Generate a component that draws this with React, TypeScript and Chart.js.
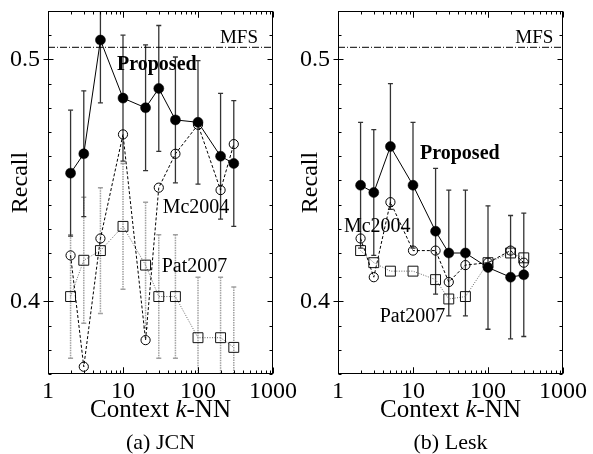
import React, { useEffect, useRef } from "react";
import { Chart, registerables } from "chart.js";

Chart.register(...registerables);

// ---------------- data ----------------
const kValues = [2, 3, 5, 10, 20, 30, 50, 100, 200, 300];
const mfsValue = 0.505;

const jcnProposed = [0.453, 0.461, 0.508, 0.484, 0.48, 0.488, 0.475, 0.474, 0.46, 0.457];
const jcnProposedErr = [0.026, 0.026, 0.026, 0.026, 0.026, 0.026, 0.026, 0.0255, 0.026, 0.026];
const jcnMc = [0.419, 0.373, 0.426, 0.469, 0.384, 0.447, 0.461, 0.473, 0.446, 0.465];
const jcnPat = [0.402, 0.417, 0.421, 0.431, 0.415, 0.402, 0.402, 0.385, 0.385, 0.381];
const jcnPatErr = [0.0255, 0.026, 0.026, 0.026, 0.026, 0.0255, 0.0255, 0.025, 0.025, 0.025];

const leskProposed = [0.448, 0.445, 0.464, 0.448, 0.429, 0.42, 0.42, 0.414, 0.41, 0.411];
const leskProposedErr = [0.026, 0.026, 0.026, 0.026, 0.026, 0.026, 0.026, 0.0255, 0.0255, 0.0255];
const leskMc = [0.426, 0.41, 0.441, 0.421, 0.421, 0.408, 0.415, 0.416, 0.421, 0.416];
const leskPat = [0.421, 0.416, 0.4125, 0.4125, 0.409, 0.401, 0.402, 0.416, 0.42, 0.418];

const xTickLabels = [1, 10, 100, 1000];
const yTickLabels = [0.4, 0.5];
const yMin = 0.37;
const yMax = 0.52;
const xMin = 1;
const xMax = 1000;

type Label = { text: string; x: number; y: number; align: CanvasTextAlign; bold?: boolean; size: number };

const jcnLabels: Label[] = [
  { text: "MFS", x: 631, y: 0.5066, align: "right", size: 19 },
  { text: "Proposed", x: 8.32, y: 0.4955, align: "left", bold: true, size: 20 },
  { text: "Mc2004", x: 33.8, y: 0.4365, align: "left", size: 20 },
  { text: "Pat2007", x: 32.8, y: 0.4121, align: "left", size: 20 },
];
const leskLabels: Label[] = [
  { text: "MFS", x: 742, y: 0.5067, align: "right", size: 19 },
  { text: "Proposed", x: 12.4, y: 0.459, align: "left", bold: true, size: 20 },
  { text: "Mc2004", x: 1.2, y: 0.4286, align: "left", size: 20 },
  { text: "Pat2007", x: 3.6, y: 0.3914, align: "left", size: 20 },
];

const FONT = "'Liberation Serif', 'Times New Roman', serif";

const toPoints = (ys: number[]) => kValues.map((k, i) => ({ x: k, y: ys[i] }));

type ErrSpec = { series: number[]; errors: number[]; color: string; dash: number[]; width: number };

interface PanelProps {
  left: number;
  width: number;
  padRight: number;
  caption: string;
  proposed: number[];
  mc: number[];
  pat: number[];
  errSpecs: ErrSpec[];
  labels: Label[];
}

function Panel(props: PanelProps) {
  const ref = useRef<HTMLCanvasElement | null>(null);

  useEffect(() => {
    const canvas = ref.current;
    if (!canvas) return;

    const errorBars = {
      id: "errorBars",
      beforeDatasetsDraw(chart: any) {
        const { ctx, chartArea: a, scales } = chart;
        ctx.save();
        ctx.beginPath();
        ctx.rect(a.left, a.top, a.right - a.left, a.bottom - a.top);
        ctx.clip();
        for (const spec of props.errSpecs) {
          ctx.strokeStyle = spec.color;
          ctx.lineWidth = spec.width;
          ctx.setLineDash(spec.dash);
          kValues.forEach((k, i) => {
            const px = scales.x.getPixelForValue(k);
            const top = scales.y.getPixelForValue(spec.series[i] + spec.errors[i]);
            const bot = scales.y.getPixelForValue(spec.series[i] - spec.errors[i]);
            ctx.beginPath();
            ctx.moveTo(px, top);
            ctx.lineTo(px, bot);
            ctx.stroke();
            ctx.setLineDash([]);
            ctx.beginPath();
            ctx.moveTo(px - 2.5, top);
            ctx.lineTo(px + 2.5, top);
            ctx.moveTo(px - 2.5, bot);
            ctx.lineTo(px + 2.5, bot);
            ctx.stroke();
            ctx.setLineDash(spec.dash);
          });
        }
        ctx.restore();
      },
    };

    const decorations = {
      id: "decorations",
      afterDraw(chart: any) {
        const { ctx, chartArea: a, scales } = chart;
        const xs = scales.x;
        const ys = scales.y;
        ctx.save();
        ctx.strokeStyle = "#000";
        ctx.lineWidth = 1;
        ctx.setLineDash([]);
        const L = Math.round(a.left) + 0.5;
        const R = Math.round(a.right) - 0.5;
        const T = Math.round(a.top) + 0.5;
        const B = Math.round(a.bottom) - 0.5;
        ctx.strokeRect(L, T, R - L, B - T);

        // y ticks every 0.01
        ctx.beginPath();
        for (let i = 0; i <= Math.round((yMax - yMin) * 100); i++) {
          const v = yMin + i * 0.01;
          const py = Math.round(ys.getPixelForValue(v)) + 0.5;
          const major = yTickLabels.some((t) => Math.abs(t - v) < 1e-6);
          const len = major ? 5 : 3;
          ctx.moveTo(L - (major ? 5 : 0), py);
          ctx.lineTo(L + len, py);
          ctx.moveTo(R, py);
          ctx.lineTo(R - len, py);
        }
        // x ticks (log decades)
        for (let d = 1; d < xMax; d *= 10) {
          for (let m = 1; m <= 10; m++) {
            const v = d * m;
            if (v > xMax) continue;
            const px = Math.round(xs.getPixelForValue(v)) + 0.5;
            const major = xTickLabels.includes(v);
            const len = major ? 6 : 3;
            ctx.moveTo(px, B);
            ctx.lineTo(px, B - len);
            ctx.moveTo(px, T);
            ctx.lineTo(px, T + len);
          }
        }
        ctx.stroke();

        // annotations
        ctx.fillStyle = "#000";
        ctx.textBaseline = "alphabetic";
        for (const lb of props.labels) {
          ctx.font = `${lb.bold ? "bold " : ""}${lb.size}px ${FONT}`;
          ctx.textAlign = lb.align;
          ctx.fillText(lb.text, xs.getPixelForValue(lb.x), ys.getPixelForValue(lb.y));
        }

        const cx = (a.left + a.right) / 2;
        // y title
        ctx.save();
        ctx.translate(26.5, (a.top + a.bottom) / 2 - 10);
        ctx.rotate(-Math.PI / 2);
        ctx.font = `24px ${FONT}`;
        ctx.textAlign = "center";
        ctx.fillText("Recall", 0, 0);
        ctx.restore();

        // x title with italic k
        const partA = "Context ";
        const partB = "k";
        const partC = "-NN";
        const normal = `25px ${FONT}`;
        const italic = `italic 25px ${FONT}`;
        ctx.textAlign = "left";
        ctx.font = normal;
        const wA = ctx.measureText(partA).width;
        const wC = ctx.measureText(partC).width;
        ctx.font = italic;
        const wB = ctx.measureText(partB).width;
        let sx = cx - (wA + wB + wC) / 2;
        const by = 417;
        ctx.font = normal;
        ctx.fillText(partA, sx, by);
        sx += wA;
        ctx.font = italic;
        ctx.fillText(partB, sx, by);
        sx += wB;
        ctx.font = normal;
        ctx.fillText(partC, sx, by);

        // caption
        ctx.font = `22px ${FONT}`;
        ctx.textAlign = "center";
        ctx.fillText(props.caption, cx, 449);
        ctx.restore();
      },
    };

    const chart = new Chart(canvas, {
      type: "line",
      data: {
        datasets: [
          {
            label: "Proposed",
            data: toPoints(props.proposed),
            borderColor: "#000",
            borderWidth: 1,
            pointStyle: "circle",
            pointRadius: 5,
            pointBackgroundColor: "#000",
            pointBorderColor: "#000",
            pointBorderWidth: 0.5,
            tension: 0,
          },
          {
            label: "Mc2004",
            data: toPoints(props.mc),
            borderColor: "#000",
            borderWidth: 1,
            borderDash: [3, 2],
            pointStyle: "circle",
            pointRadius: 4.6,
            pointBackgroundColor: "rgba(0,0,0,0)",
            pointBorderColor: "#000",
            pointBorderWidth: 1,
            tension: 0,
          },
          {
            label: "Pat2007",
            data: toPoints(props.pat),
            borderColor: "#666",
            borderWidth: 1,
            borderDash: [1, 1.5],
            pointStyle: "rect",
            pointRadius: 7,
            pointBackgroundColor: "rgba(0,0,0,0)",
            pointBorderColor: "#111",
            pointBorderWidth: 1,
            tension: 0,
          },
          {
            label: "MFS",
            data: [
              { x: xMin, y: mfsValue },
              { x: xMax, y: mfsValue },
            ],
            borderColor: "#000",
            borderWidth: 1,
            borderDash: [7, 2, 1, 2],
            pointRadius: 0,
            tension: 0,
          },
        ],
      },
      options: {
        responsive: false,
        maintainAspectRatio: false,
        animation: false,
        layout: { padding: { top: 11, bottom: 0, left: 0, right: props.padRight } },
        plugins: {
          legend: { display: false },
          tooltip: { enabled: false },
          title: { display: false },
        },
        scales: {
          x: {
            type: "logarithmic",
            min: xMin,
            max: xMax,
            grid: { display: false },
            border: { display: false },
            afterBuildTicks: (scale: any) => {
              scale.ticks = xTickLabels.map((v) => ({ value: v }));
            },
            afterFit: (scale: any) => {
              scale.height = 80;
              scale.paddingLeft = 0;
              scale.paddingRight = 0;
            },
            ticks: {
              color: "#000",
              autoSkip: false,
              maxRotation: 0,
              padding: -5,
              font: { family: FONT, size: 24 },
              callback: (v: any) => String(v),
            },
          },
          y: {
            type: "linear",
            min: yMin,
            max: yMax,
            grid: { display: false },
            border: { display: false },
            afterBuildTicks: (scale: any) => {
              scale.ticks = yTickLabels.map((v) => ({ value: v }));
            },
            afterFit: (scale: any) => {
              scale.width = 48;
              scale.paddingTop = 0;
              scale.paddingBottom = 0;
            },
            ticks: {
              color: "#000",
              padding: 0,
              font: { family: FONT, size: 24 },
              callback: (v: any) => Number(v).toFixed(1),
            },
          },
        },
      },
      plugins: [errorBars, decorations],
    });

    return () => chart.destroy();
  }, []);

  return (
    <canvas
      ref={ref}
      width={props.width}
      height={454}
      style={{ position: "absolute", left: props.left, top: 0, width: props.width, height: 454 }}
    />
  );
}

export default function App() {
  return (
    <div style={{ position: "fixed", left: 0, top: 0, width: 593, height: 454, background: "#fff", overflow: "hidden" }}>
      <Panel
        left={0}
        width={305}
        padRight={32}
        caption="(a) JCN"
        proposed={jcnProposed}
        mc={jcnMc}
        pat={jcnPat}
        errSpecs={[
          { series: jcnPat, errors: jcnPatErr, color: "#a0a0a0", dash: [1.5, 1], width: 1.5 },
          { series: jcnProposed, errors: jcnProposedErr, color: "#333", dash: [], width: 1.3 },
        ]}
        labels={jcnLabels}
      />
      <Panel
        left={290}
        width={303}
        padRight={30}
        caption="(b) Lesk"
        proposed={leskProposed}
        mc={leskMc}
        pat={leskPat}
        errSpecs={[{ series: leskProposed, errors: leskProposedErr, color: "#333", dash: [], width: 1.3 }]}
        labels={leskLabels}
      />
    </div>
  );
}
